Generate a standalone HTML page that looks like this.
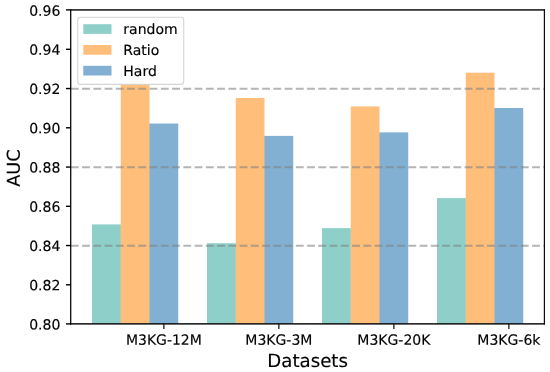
<!DOCTYPE html>
<html><head><meta charset="utf-8"><title>AUC chart</title>
<style>
html,body{margin:0;padding:0;background:#fff;}
body{width:550px;height:372px;overflow:hidden;}
svg{display:block;}
text{font-family:"DejaVu Sans","Liberation Sans",sans-serif;fill:#000;stroke:#000;stroke-width:0.15px;text-rendering:geometricPrecision;}
.t{font-size:14px;}
.l{font-size:18.2px;}
</style></head><body>
<svg width="550" height="372" viewBox="0 0 550 372">
<rect width="550" height="372" fill="#fff"/>
<rect x="92.00" y="224.40" width="28.75" height="99.50" fill="#8ECFC9"/>
<rect x="120.25" y="224.90" width="1" height="99.00" fill="#8ECFC9"/>
<rect x="120.75" y="84.47" width="28.75" height="239.43" fill="#FFBE7A"/>
<rect x="149.00" y="124.03" width="1" height="199.87" fill="#FFBE7A"/>
<rect x="149.50" y="123.53" width="28.75" height="200.37" fill="#82B0D2"/>
<rect x="207.00" y="243.24" width="28.75" height="80.66" fill="#8ECFC9"/>
<rect x="235.25" y="243.74" width="1" height="80.16" fill="#8ECFC9"/>
<rect x="235.75" y="98.02" width="28.75" height="225.88" fill="#FFBE7A"/>
<rect x="264.00" y="136.39" width="1" height="187.51" fill="#FFBE7A"/>
<rect x="264.50" y="135.89" width="28.75" height="188.01" fill="#82B0D2"/>
<rect x="322.00" y="228.13" width="28.75" height="95.77" fill="#8ECFC9"/>
<rect x="350.25" y="228.63" width="1" height="95.27" fill="#8ECFC9"/>
<rect x="350.75" y="106.45" width="28.75" height="217.45" fill="#FFBE7A"/>
<rect x="379.00" y="132.86" width="1" height="191.04" fill="#FFBE7A"/>
<rect x="379.50" y="132.36" width="28.75" height="191.54" fill="#82B0D2"/>
<rect x="437.00" y="198.10" width="28.75" height="125.80" fill="#8ECFC9"/>
<rect x="465.25" y="198.60" width="1" height="125.30" fill="#8ECFC9"/>
<rect x="465.75" y="72.70" width="28.75" height="251.20" fill="#FFBE7A"/>
<rect x="494.00" y="108.52" width="1" height="215.38" fill="#FFBE7A"/>
<rect x="494.50" y="108.02" width="28.75" height="215.88" fill="#82B0D2"/>
<line x1="70.85" x2="544.3" y1="245.80" y2="245.80" stroke="#808080" stroke-opacity="0.58" stroke-width="2.0" stroke-dasharray="7.85 3.4"/>
<line x1="70.85" x2="544.3" y1="167.30" y2="167.30" stroke="#808080" stroke-opacity="0.58" stroke-width="2.0" stroke-dasharray="7.85 3.4"/>
<line x1="70.85" x2="544.3" y1="88.80" y2="88.80" stroke="#808080" stroke-opacity="0.58" stroke-width="2.0" stroke-dasharray="7.85 3.4"/>
<rect x="70.05" y="9.20" width="1.3" height="315.40" fill="#0a0a0a"/>
<rect x="543.80" y="9.20" width="1.2" height="315.40" fill="#0a0a0a"/>
<rect x="70.05" y="9.20" width="474.95" height="1.45" fill="#0a0a0a"/>
<rect x="70.05" y="323.15" width="474.95" height="1.45" fill="#0a0a0a"/>
<line x1="65.95" x2="70.85" y1="323.90" y2="323.90" stroke="#000" stroke-width="1.4"/>
<text class="t" transform="translate(60.30,329.50) rotate(0.05)" text-anchor="end">0.80</text>
<line x1="65.95" x2="70.85" y1="284.80" y2="284.80" stroke="#000" stroke-width="1.4"/>
<text class="t" transform="translate(60.30,290.22) rotate(0.05)" text-anchor="end">0.82</text>
<line x1="65.95" x2="70.85" y1="245.55" y2="245.55" stroke="#000" stroke-width="1.4"/>
<text class="t" transform="translate(60.30,250.97) rotate(0.05)" text-anchor="end">0.84</text>
<line x1="65.95" x2="70.85" y1="206.30" y2="206.30" stroke="#000" stroke-width="1.4"/>
<text class="t" transform="translate(60.30,211.72) rotate(0.05)" text-anchor="end">0.86</text>
<line x1="65.95" x2="70.85" y1="167.05" y2="167.05" stroke="#000" stroke-width="1.4"/>
<text class="t" transform="translate(60.30,172.47) rotate(0.05)" text-anchor="end">0.88</text>
<line x1="65.95" x2="70.85" y1="127.80" y2="127.80" stroke="#000" stroke-width="1.4"/>
<text class="t" transform="translate(60.30,133.22) rotate(0.05)" text-anchor="end">0.90</text>
<line x1="65.95" x2="70.85" y1="88.55" y2="88.55" stroke="#000" stroke-width="1.4"/>
<text class="t" transform="translate(60.30,93.97) rotate(0.05)" text-anchor="end">0.92</text>
<line x1="65.95" x2="70.85" y1="49.30" y2="49.30" stroke="#000" stroke-width="1.4"/>
<text class="t" transform="translate(60.30,54.72) rotate(0.05)" text-anchor="end">0.94</text>
<line x1="65.95" x2="70.85" y1="9.90" y2="9.90" stroke="#000" stroke-width="1.4"/>
<text class="t" transform="translate(60.30,15.70) rotate(0.05)" text-anchor="end">0.96</text>
<line x1="163.88" x2="163.88" y1="323.9" y2="328.90" stroke="#0a0a0a" stroke-width="1.2"/>
<text class="t" transform="translate(163.88,344.7) rotate(0.05)" text-anchor="middle">M3KG-12M</text>
<line x1="278.88" x2="278.88" y1="323.9" y2="328.90" stroke="#0a0a0a" stroke-width="1.2"/>
<text class="t" transform="translate(278.88,344.7) rotate(0.05)" text-anchor="middle">M3KG-3M</text>
<line x1="393.88" x2="393.88" y1="323.9" y2="328.90" stroke="#0a0a0a" stroke-width="1.2"/>
<text class="t" transform="translate(393.88,344.7) rotate(0.05)" text-anchor="middle">M3KG-20K</text>
<line x1="508.88" x2="508.88" y1="323.9" y2="328.90" stroke="#0a0a0a" stroke-width="1.2"/>
<text class="t" transform="translate(508.88,344.7) rotate(0.05)" text-anchor="middle">M3KG-6k</text>
<text class="l" transform="translate(307.57,367) rotate(0.05)" text-anchor="middle">Datasets</text>
<text class="l" style="font-size:17.7px" transform="translate(19.8,168.10) rotate(-90.05)" text-anchor="middle">AUC</text>
<rect x="77.7" y="17.2" width="106" height="67.2" rx="2.8" ry="2.8" fill="#fff" fill-opacity="0.8" stroke="#ccc" stroke-opacity="0.8" stroke-width="1.12"/>
<rect x="83.3" y="24.2" width="28.2" height="9.7" fill="#8ECFC9"/>
<text class="t" transform="translate(123.3,34.0) rotate(0.05)">random</text>
<rect x="83.3" y="45.0" width="28.2" height="9.7" fill="#FFBE7A"/>
<text class="t" transform="translate(123.3,55.0) rotate(0.05)">Ratio</text>
<rect x="83.3" y="65.8" width="28.2" height="9.7" fill="#82B0D2"/>
<text class="t" transform="translate(123.3,76.05) rotate(0.05)">Hard</text>
</svg>
</body></html>
